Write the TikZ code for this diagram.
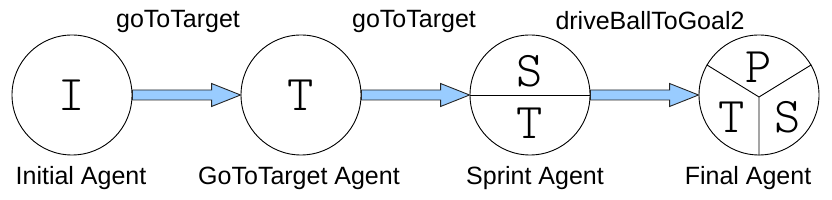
\documentclass[tikz,border=0pt]{standalone}
\usepackage{fontspec}
\setmainfont{Liberation Sans}
\newfontfamily\agentfont{Latin Modern Mono Light}
\usetikzlibrary{calc}
\definecolor{arrowblue}{RGB}{153,204,255}
\tikzset{
  agent/.style={draw, circle, minimum size=120pt, inner sep=0pt, line width=0.9pt},
  letter/.style={font=\agentfont\fontsize{50}{50}\selectfont},
  caption/.style={font=\fontsize{25}{28}\selectfont},
  fatarrow/.style={draw=black!85, fill=arrowblue, line width=0.9pt, line join=miter}
}
\newcommand{\fatarrow}[2]{%
  \draw[fatarrow] ($(#1.east)+(0,5)$) -- ($(#2.west)+(-29,5)$) -- ($(#2.west)+(-29,11.5)$)
    -- (#2.west) -- ($(#2.west)+(-29,-11.5)$) -- ($(#2.west)+(-29,-5)$) -- ($(#1.east)+(0,-5)$) -- cycle;}
\begin{document}
\begin{tikzpicture}[x=1pt, y=1pt]
\useasboundingbox (0,0) rectangle (832,200);
% agents
\node[agent, letter] (init) at (72,105) {I};
\node[agent, letter] (goto) at (301,105) {T};
\node[agent] (sprint) at (530,105) {};
\node[agent] (final) at (759,105) {};
% sprint split
\draw[line width=0.9pt] (sprint.west) -- (sprint.east);
\node[letter] (sprintS) at (530,129) {S};
\node[letter] (sprintT) at (530,77) {T};
% final split
\coordinate (fc) at (759,103);
\draw[line width=0.9pt] (fc) -- (final.150) (fc) -- (final.30) (fc) -- (final.south);
\node[letter] (finalP) at (759,133) {P};
\node[letter] (finalT) at (732,83) {T};
\node[letter] (finalS) at (788,83) {S};
% transitions
\fatarrow{init}{goto}
\fatarrow{goto}{sprint}
\fatarrow{sprint}{final}
\node[caption] (t1) at (178,179) {goToTarget};
\node[caption] (t2) at (414,179) {goToTarget};
\node[caption] (t3) at (650,179) {driveBallToGoal2};
% names
\node[caption] (n1) at (81,22) {Initial Agent};
\node[caption] (n2) at (299,22) {GoToTarget Agent};
\node[caption] (n3) at (535,22) {Sprint Agent};
\node[caption] (n4) at (748,22) {Final Agent};
\end{tikzpicture}
\end{document}
